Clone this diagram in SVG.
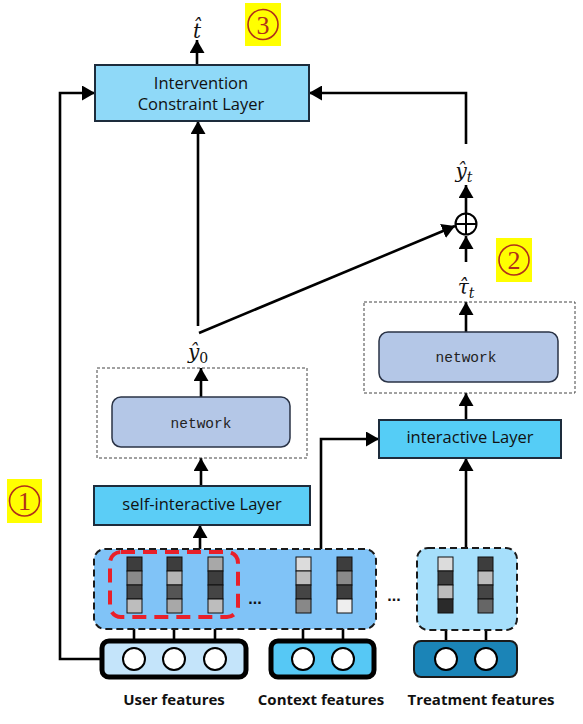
<svg xmlns="http://www.w3.org/2000/svg" width="583" height="724" viewBox="0 0 583 724">
<defs>
<marker id="ah" markerUnits="userSpaceOnUse" markerWidth="14" markerHeight="15" refX="13" refY="7.5" orient="auto">
<path d="M0,0 L13,7.5 L0,15 Z" fill="#000"/>
</marker>
<style>
.ln{stroke:#000;stroke-width:2.6;fill:none}
.arr{stroke:#000;stroke-width:2.6;fill:none;marker-end:url(#ah)}
.layer{stroke:#1d2c3c;stroke-width:2}
.lt{font-family:"Open Sans","Noto Sans",sans-serif;font-size:16.5px;fill:#111;text-anchor:middle}
.net{fill:#b4c7e7;stroke:#2a3346;stroke-width:1.5}
.nt{font-family:"Liberation Mono","DejaVu Sans Mono",monospace;font-size:14.5px;fill:#222;text-anchor:middle}
.dbox{fill:none;stroke:#444;stroke-width:1;stroke-dasharray:3,2}
.math{font-family:"DejaVu Serif","Liberation Serif",serif;font-style:italic;font-size:20px;fill:#111;text-anchor:middle}
.sub{font-size:14px}
.badge{fill:#ffff00}
.ring{fill:none;stroke:#b0301a;stroke-width:1.6}
.bt{font-family:"Liberation Serif","DejaVu Serif",serif;font-size:26px;fill:#b0301a;text-anchor:middle}
.panel{stroke:#1a1a1a;stroke-width:2;stroke-dasharray:7,4}
.col{stroke:#111;stroke-width:1}
.circ{fill:#fff;stroke:#000;stroke-width:2}
.fl{font-family:"Open Sans","Noto Sans",sans-serif;font-weight:bold;font-size:15px;fill:#111;text-anchor:middle}
.dots{font-family:"Liberation Sans",sans-serif;font-weight:bold;font-size:16px;fill:#111;text-anchor:middle}
</style>
</defs>
<rect width="583" height="724" fill="#fff"/>

<g id="badge3"><rect class="badge" x="245" y="3" width="36" height="43"/><circle class="ring" cx="263" cy="24.5" r="15"/><text class="bt" x="263" y="33.5">3</text></g>
<g id="badge2"><rect class="badge" x="496" y="238" width="36" height="44"/><circle class="ring" cx="514" cy="260" r="15"/><text class="bt" x="514" y="269">2</text></g>
<g id="badge1"><rect class="badge" x="7" y="479" width="35" height="44"/><circle class="ring" cx="24.5" cy="501" r="15"/><text class="bt" x="24.5" y="510">1</text></g>

<g id="connectors">
<line class="arr" x1="197" y1="65" x2="197" y2="40"/>
<polyline class="arr" points="102,659 60,659 60,93 95,93"/>
<polyline class="arr" points="466,144 466,93 309,93"/>
<line class="arr" x1="198" y1="326" x2="198" y2="121"/>
<line class="arr" x1="199" y1="333" x2="455" y2="226"/>
<line class="arr" x1="466" y1="213" x2="466" y2="185"/>
<line class="arr" x1="466" y1="262" x2="466" y2="236"/>
<line class="arr" x1="466" y1="332" x2="466" y2="302"/>
<line class="arr" x1="466" y1="420" x2="466" y2="393"/>
<line class="arr" x1="201" y1="397" x2="201" y2="368"/>
<line class="arr" x1="201" y1="486" x2="201" y2="458"/>
<line class="arr" x1="200" y1="549" x2="200" y2="525"/>
<polyline class="arr" points="321,549 321,439 379,439"/>
<line class="arr" x1="466" y1="548" x2="466" y2="458"/>
<line class="arr" x1="134" y1="648" x2="134" y2="613"/>
<line class="arr" x1="174" y1="648" x2="174" y2="613"/>
<line class="arr" x1="215" y1="648" x2="215" y2="613"/>
<line class="arr" x1="303" y1="648" x2="303" y2="613"/>
<line class="arr" x1="343" y1="648" x2="343" y2="613"/>
<line class="arr" x1="446" y1="648" x2="446" y2="613"/>
<line class="arr" x1="486" y1="648" x2="486" y2="613"/>
</g>

<g id="t_hat"><text class="math" x="197" y="38">t̂</text></g>

<g id="intervention">
<rect class="layer" x="95" y="65" width="214" height="56" fill="#8fd9f8"/>
<text class="lt" x="201" y="89">Intervention</text>
<text class="lt" x="201" y="110">Constraint Layer</text>
</g>

<g id="y_t_hat"><text class="math" x="464" y="178">ŷ<tspan class="sub" dy="4">t</tspan></text></g>

<g id="oplus">
<circle cx="466" cy="224" r="10.5" fill="#fff" stroke="#000" stroke-width="2"/>
<line x1="455.5" y1="224" x2="476.5" y2="224" stroke="#000" stroke-width="2"/>
<line x1="466" y1="213.5" x2="466" y2="234.5" stroke="#000" stroke-width="2"/>
</g>

<g id="tau_t_hat"><text class="math" x="466" y="294">τ̂<tspan class="sub" dy="4">t</tspan></text></g>

<g id="y0_hat"><text class="math" x="198" y="359">ŷ<tspan class="sub" font-style="normal" dy="4">0</tspan></text></g>

<g id="right_network">
<rect class="dbox" x="364" y="302" width="211" height="91"/>
<rect class="net" x="379" y="332" width="179" height="50" rx="9"/>
<text class="nt" x="466" y="362">network</text>
</g>

<g id="left_network">
<rect class="dbox" x="97" y="368" width="210" height="90"/>
<rect class="net" x="112" y="397" width="178" height="50" rx="9"/>
<text class="nt" x="201" y="428">network</text>
</g>

<g id="interactive">
<rect class="layer" x="379" y="420" width="182" height="38" fill="#55cdf6"/>
<text class="lt" x="470" y="443">interactive Layer</text>
</g>

<g id="self_interactive">
<rect class="layer" x="94" y="486" width="216" height="39" fill="#5bcdf6"/>
<text class="lt" x="202" y="510">self-interactive Layer</text>
</g>

<g id="embedding_panel">
<rect class="panel" x="94" y="549" width="282" height="80" rx="11" fill="#80c3f7"/>
<rect x="110" y="552" width="128" height="65" rx="11" fill="none" stroke="#e8202a" stroke-width="4" stroke-dasharray="14,8"/>
<g class="col">
<rect x="127" y="557" width="15" height="14" fill="#3d3d3d"/><rect x="127" y="571" width="15" height="14" fill="#8a8a8a"/><rect x="127" y="585" width="15" height="14" fill="#454545"/><rect x="127" y="599" width="15" height="14" fill="#bdbdbd"/>
<rect x="167" y="557" width="15" height="14" fill="#3d3d3d"/><rect x="167" y="571" width="15" height="14" fill="#b5b5b5"/><rect x="167" y="585" width="15" height="14" fill="#555"/><rect x="167" y="599" width="15" height="14" fill="#a8a8a8"/>
<rect x="208" y="557" width="15" height="14" fill="#a8a8a8"/><rect x="208" y="571" width="15" height="14" fill="#3d3d3d"/><rect x="208" y="585" width="15" height="14" fill="#454545"/><rect x="208" y="599" width="15" height="14" fill="#bdbdbd"/>
<rect x="296" y="557" width="15" height="14" fill="#dcdcdc"/><rect x="296" y="571" width="15" height="14" fill="#bcbcbc"/><rect x="296" y="585" width="15" height="14" fill="#454545"/><rect x="296" y="599" width="15" height="14" fill="#888"/>
<rect x="337" y="557" width="15" height="14" fill="#3d3d3d"/><rect x="337" y="571" width="15" height="14" fill="#8a8a8a"/><rect x="337" y="585" width="15" height="14" fill="#3d3d3d"/><rect x="337" y="599" width="15" height="14" fill="#eeeeee"/>
</g>
<text class="dots" x="255" y="604">...</text>
</g>

<text class="dots" x="394" y="601">...</text>

<g id="treatment_panel">
<rect class="panel" x="417" y="548" width="100" height="82" rx="11" fill="#a6dffb"/>
<g class="col">
<rect x="438" y="557" width="15" height="14" fill="#dcdcdc"/><rect x="438" y="571" width="15" height="14" fill="#3d3d3d"/><rect x="438" y="585" width="15" height="14" fill="#bcbcbc"/><rect x="438" y="599" width="15" height="14" fill="#2a2a2a"/>
<rect x="478" y="557" width="15" height="14" fill="#3d3d3d"/><rect x="478" y="571" width="15" height="14" fill="#bcbcbc"/><rect x="478" y="585" width="15" height="14" fill="#454545"/><rect x="478" y="599" width="15" height="14" fill="#666"/>
</g>
</g>

<g id="user_features">
<rect x="102" y="641" width="144" height="36" rx="7" fill="#c4e4fa" stroke="#000" stroke-width="5"/>
<circle class="circ" cx="134" cy="659" r="11"/><circle class="circ" cx="174" cy="659" r="11"/><circle class="circ" cx="215" cy="659" r="11"/>
<text class="fl" x="174" y="705">User features</text>
</g>

<g id="context_features">
<rect x="271" y="641" width="103" height="36" rx="7" fill="#56c8f5" stroke="#000" stroke-width="5"/>
<circle class="circ" cx="303" cy="659" r="11"/><circle class="circ" cx="343" cy="659" r="11"/>
<text class="fl" x="321" y="705">Context features</text>
</g>

<g id="treatment_features">
<rect x="414" y="641" width="103" height="36" rx="7" fill="#1b84b7" stroke="#1a1a1a" stroke-width="2"/>
<circle class="circ" cx="446" cy="659" r="11"/><circle class="circ" cx="486" cy="659" r="11"/>
<text class="fl" x="481" y="705">Treatment features</text>
</g>
</svg>
